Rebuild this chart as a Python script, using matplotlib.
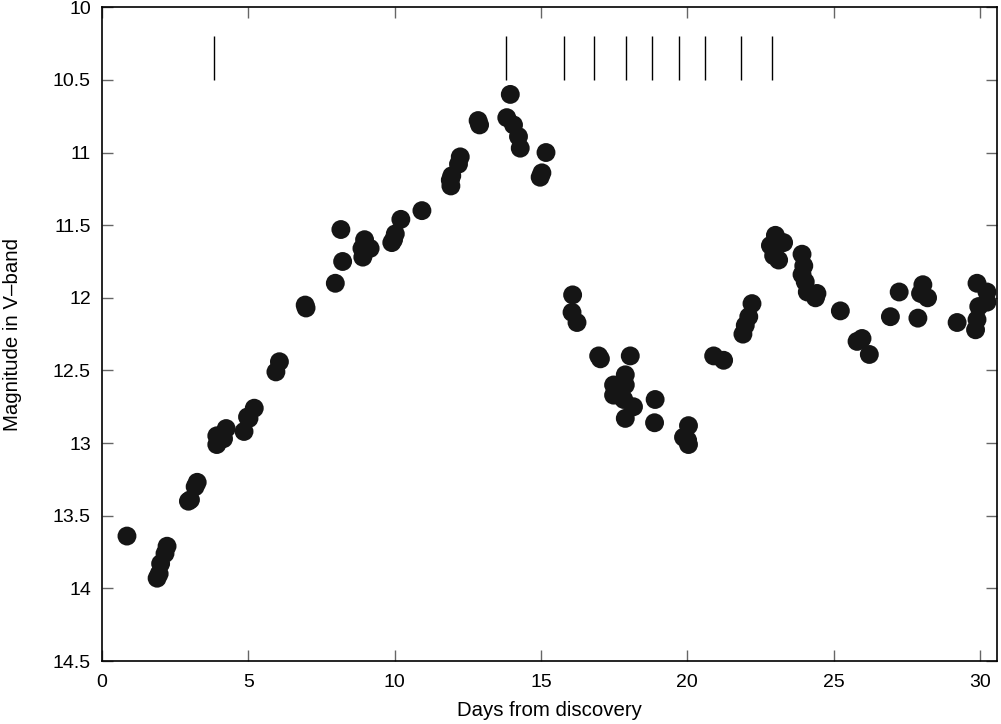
import numpy as np
import matplotlib
matplotlib.use("Agg")
import matplotlib.pyplot as plt
from matplotlib.ticker import FormatStrFormatter

plt.rcParams['font.family'] = ['Liberation Sans', 'DejaVu Sans']

# light curve: days from discovery, V magnitude
days = [0.85, 1.88, 1.95, 2.0, 2.15, 2.22, 2.95, 3.02, 3.18, 3.25,
        3.92, 3.92, 4.15, 4.24, 4.85, 4.97, 5.02, 5.2, 5.94, 6.06,
        6.94, 6.97, 7.97, 8.16, 8.22, 8.88, 8.91, 8.97, 9.16, 9.9,
        9.96, 10.02, 10.21, 10.93, 11.9, 11.92, 11.95, 12.18, 12.24, 12.85,
        12.9, 13.83, 13.95, 14.06, 14.23, 14.29, 14.97, 15.03, 15.17, 16.06,
        16.08, 16.23, 16.97, 17.03, 17.48, 17.48, 17.83, 17.88, 17.88, 17.88,
        18.05, 18.16, 18.9, 18.88, 19.87, 20.01, 20.04, 20.04, 20.9, 21.24,
        21.9, 21.98, 22.1, 22.21, 22.84, 22.95, 23.01, 23.12, 23.29, 23.92,
        23.98, 23.92, 24.03, 24.1, 24.43, 24.38, 25.23, 25.8, 25.97, 26.22,
        26.94, 27.24, 27.88, 27.97, 28.05, 28.21, 29.22, 29.85, 29.9, 29.9,
        29.96, 30.24, 30.24]
mags = [13.64, 13.93, 13.90, 13.83, 13.76, 13.71, 13.40, 13.39, 13.30, 13.27,
        13.01, 12.95, 12.97, 12.90, 12.92, 12.82, 12.83, 12.76, 12.51, 12.44,
        12.05, 12.07, 11.90, 11.53, 11.75, 11.66, 11.72, 11.60, 11.66, 11.62,
        11.60, 11.56, 11.46, 11.40, 11.19, 11.23, 11.16, 11.08, 11.03, 10.78,
        10.81, 10.76, 10.60, 10.81, 10.89, 10.97, 11.17, 11.14, 11.00, 12.10,
        11.98, 12.17, 12.40, 12.42, 12.60, 12.67, 12.70, 12.53, 12.60, 12.83,
        12.40, 12.75, 12.70, 12.86, 12.96, 12.98, 12.88, 13.01, 12.40, 12.43,
        12.25, 12.19, 12.13, 12.04, 11.64, 11.71, 11.57, 11.74, 11.62, 11.70,
        11.78, 11.84, 11.89, 11.96, 11.97, 12.00, 12.09, 12.30, 12.28, 12.39,
        12.13, 11.96, 12.14, 11.97, 11.91, 12.00, 12.17, 12.22, 11.90, 12.15,
        12.06, 11.96, 12.03]

# epochs marked at the top of the plot
mark_days = [3.83, 13.81, 15.80, 16.81, 17.91, 18.80, 19.71, 20.62, 21.85, 22.9]
mark_top, mark_bottom = 10.2, 10.5

fig = plt.figure(figsize=(10.01, 7.24), dpi=100)
ax = fig.add_axes([0.102, 0.087, 0.8945, 0.903])

ax.scatter(days, mags, s=185, color='#151515', edgecolors='none', zorder=3, clip_on=False)
ax.vlines(mark_days, mark_top, mark_bottom, color='black', lw=1.0)

ax.set_xlim(0, 30.6)
ax.set_ylim(14.5, 10)
ax.set_xticks(np.arange(0, 31, 5))
ax.set_yticks(np.arange(10, 14.51, 0.5))
ax.yaxis.set_major_formatter(FormatStrFormatter('%g'))

ax.tick_params(direction='in', length=8, width=1, color='#666666',
               top=True, right=True, labelsize=14)
ax.tick_params(axis='x', pad=9.5)
ax.tick_params(axis='y', pad=8)
for sp in ax.spines.values():
    sp.set_linewidth(1.2)

ax.set_xlabel("Days from discovery", fontsize=14.7, labelpad=7)
ax.set_ylabel("Magnitude in V\u2013band", fontsize=14.7, labelpad=22)

plt.savefig("out.png", dpi=100)
plt.close()
